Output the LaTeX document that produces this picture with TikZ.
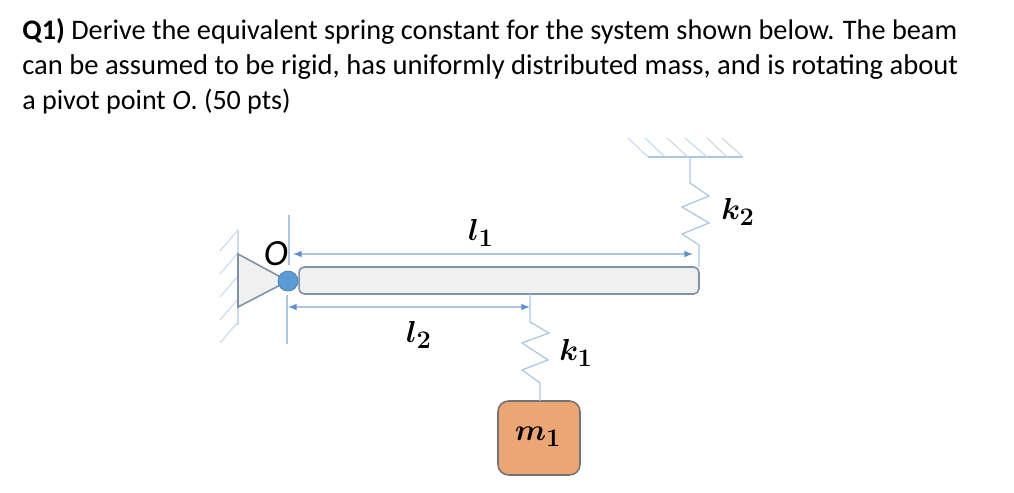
\documentclass[tikz,border=0pt]{standalone}
\usepackage{fontspec}
\setmainfont{Carlito}
\usepackage{tikz}

\definecolor{lineblue}{RGB}{172,198,226}
\definecolor{hatchblue}{RGB}{205,220,236}
\definecolor{dimblue}{RGB}{91,145,205}
\definecolor{edgegray}{RGB}{128,146,170}
\definecolor{pivotblue}{RGB}{91,155,213}
\definecolor{massorange}{RGB}{236,166,118}

\tikzset{
  prose/.style={anchor=base west, inner sep=0pt, font=\fontsize{16.1}{19}\selectfont},
  sym/.style={inner sep=0pt, font=\fontsize{19}{23}\selectfont\boldmath},
  thin line/.style={draw=lineblue, line width=0.7pt},
  hatch line/.style={draw=hatchblue, line width=0.7pt},
  dim line/.style={draw=lineblue, line width=0.7pt, <->, >={latex[dimblue]}},
}

\begin{document}
\begin{tikzpicture}[x=0.02cm, y=-0.02cm]
   \useasboundingbox (0,0) rectangle (1014,493);

   \node[prose] (line1) at (22,40) {\textbf{Q1)} Derive the equivalent spring constant for the system shown below. The beam};
   \node[prose, font=\fontsize{16.27}{19}\selectfont] (line2) at (22,75) {can be assumed to be rigid, has uniformly distributed mass, and is rotating about};
   \node[prose, font=\fontsize{15.95}{19}\selectfont] (line3) at (22,110) {a pivot point \textit{O}. (50 pts)};

   % wall
   \coordinate (walltop) at (238,230);
   \coordinate (wallbot) at (238,325);
   \draw[hatch line] (walltop) -- (wallbot);
   \foreach \y in {230,253,276,299,322}
      \draw[hatch line] (238,\y) -- (220,\y+21);

   % support and beam
   \filldraw[fill=gray!12, draw=edgegray, line width=0.9pt] (238,254) -- (288,281) -- (238,307) -- cycle;
   \node[draw=edgegray, fill=gray!12, line width=0.9pt, rounded corners=3pt, minimum width=80mm, minimum height=5.4mm, inner sep=0pt] (beam) at (499,280.5) {};
   \node[circle, fill=pivotblue, draw=pivotblue!80!black, minimum size=4mm, inner sep=0pt] (pivot) at (288,281) {};

   % extension lines
   \coordinate (top1) at (289,215);
   \coordinate (top2) at (289,265);
   \coordinate (low1) at (287,295);
   \coordinate (low2) at (287,344);
   \draw[thin line] (top1) -- (top2);
   \draw[thin line] (low1) -- (low2);

   % dimensions
   \coordinate (dima) at (293,254);
   \coordinate (dimb) at (693,254);
   \coordinate (dimc) at (288,307);
   \coordinate (dimd) at (530,307);
   \draw[dim line] (dima) -- (dimb);
   \draw[dim line] (dimc) -- (dimd);

   % ceiling
   \coordinate (ceila) at (648,157);
   \coordinate (ceilb) at (743,157);
   \draw[thin line] (ceila) -- (ceilb);
   \foreach \x/\xx in {648/628,665/645,688/667,707/685,727/707,743/722}
      \draw[hatch line] (\x,157) -- (\xx,138);

   % springs
   \coordinate (k2top) at (690,157);
   \coordinate (k2bot) at (699,267);
   \draw[thin line] (k2top) -- (690,183) -- (709,196) -- (682,207) -- (709,223) -- (682,234) -- (699,245) -- (k2bot);

   \node[draw=gray!90!black, fill=massorange, line width=0.9pt, rounded corners=6pt, minimum width=16.4mm, minimum height=14.8mm, inner sep=0pt] (mass) at (539,438) {};
   \coordinate (k1top) at (530,294);
   \coordinate (k1bot) at (540,401);
   \draw[thin line] (k1top) -- (530,322) -- (549,333) -- (522,343) -- (548,360) -- (522,370) -- (540,383) -- (k1bot);

   % labels
   \node[inner sep=0pt, font=\fontsize{21}{25}\selectfont\itshape] (labO) at (276,254) {O};
   \node[sym] (labla) at (481,233) {$l_1$};
   \node[sym] (lablb) at (419,335) {$l_2$};
   \node[sym] (labka) at (576,353) {$k_1$};
   \node[sym] (labkb) at (738,212) {$k_2$};
   \node[sym] (labm) at (538,437) {$m_1$};
\end{tikzpicture}
\end{document}
